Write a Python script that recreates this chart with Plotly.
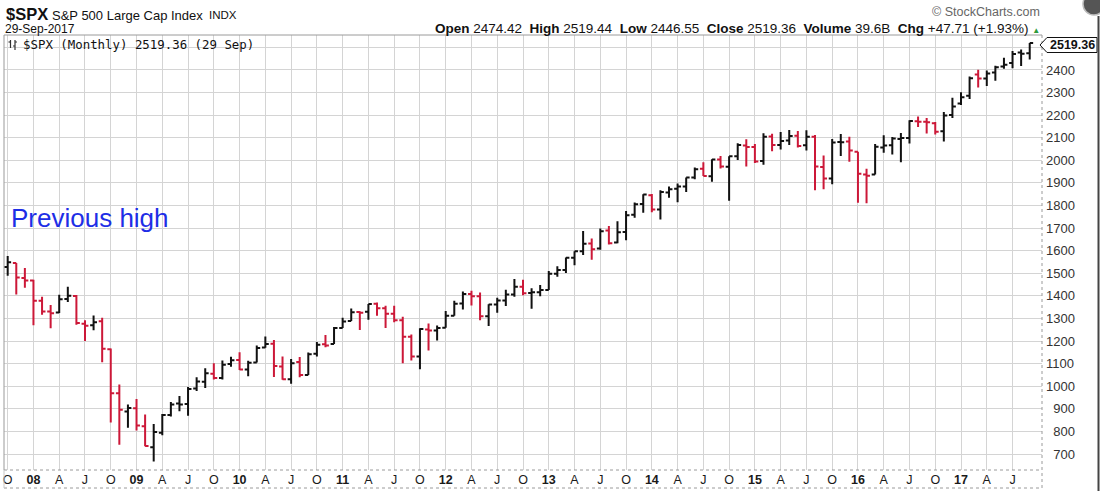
import plotly.graph_objects as go

# ---------------- data (S&P 500 monthly OHLC, Oct 2007 - Sep 2017) ----------------
months = [f"{y}-{m:02d}" for y in range(2007, 2018) for m in range(1, 13)][9:9 + 120]

opens = [
    1527.29, 1545.79, 1479.63,
    1467.97, 1378.60, 1330.45, 1326.41, 1385.97, 1399.62, 1276.69, 1269.42, 1287.83, 1164.17, 968.67, 888.61,
    902.99, 823.09, 729.57, 793.59, 872.74, 923.26, 920.82, 990.22, 1019.52, 1054.91, 1036.18, 1098.89,
    1116.56, 1073.89, 1105.36, 1171.23, 1188.58, 1087.30, 1031.10, 1107.53, 1049.72, 1143.49, 1185.71, 1186.60,
    1257.62, 1289.14, 1328.64, 1329.48, 1365.21, 1345.20, 1320.64, 1292.59, 1219.12, 1131.21, 1251.00, 1246.91,
    1258.86, 1312.45, 1365.90, 1408.47, 1397.86, 1309.87, 1362.33, 1379.32, 1406.54, 1440.90, 1412.20, 1416.18,
    1426.19, 1498.11, 1514.68, 1569.18, 1597.55, 1631.71, 1609.78, 1689.42, 1635.95, 1682.41, 1758.70, 1806.55,
    1845.86, 1782.68, 1857.68, 1873.96, 1884.39, 1923.87, 1962.29, 1929.80, 2004.07, 1971.44, 2018.21, 2065.78,
    2058.90, 1996.67, 2105.23, 2067.63, 2087.38, 2108.64, 2067.00, 2104.49, 1970.09, 1919.65, 2080.76, 2082.93,
    2038.20, 1936.94, 1937.09, 2056.62, 2067.17, 2093.94, 2099.34, 2173.15, 2171.33, 2164.33, 2128.68, 2200.17,
    2251.57, 2285.59, 2380.13, 2362.34, 2388.50, 2415.65, 2431.39, 2477.10, 2474.42]

highs = [
    1576.09, 1545.79, 1523.57,
    1471.77, 1396.02, 1359.68, 1404.57, 1440.24, 1404.05, 1292.17, 1313.15, 1303.04, 1167.03, 1007.51, 918.85,
    943.85, 875.01, 832.98, 877.52, 930.17, 956.23, 996.68, 1039.47, 1080.15, 1101.36, 1113.69, 1130.38,
    1150.45, 1112.42, 1180.69, 1219.80, 1205.13, 1131.23, 1120.95, 1129.24, 1148.90, 1196.14, 1227.08, 1262.60,
    1302.67, 1344.07, 1332.28, 1364.56, 1370.58, 1356.48, 1356.48, 1307.38, 1229.29, 1256.55, 1277.55, 1269.37,
    1333.47, 1378.04, 1419.15, 1422.38, 1415.32, 1363.46, 1391.74, 1426.68, 1474.51, 1470.96, 1434.27, 1448.00,
    1509.94, 1530.94, 1570.28, 1597.57, 1687.18, 1654.19, 1698.78, 1709.67, 1729.86, 1775.22, 1813.55, 1849.44,
    1850.84, 1867.92, 1883.97, 1897.28, 1924.03, 1968.17, 1991.39, 2005.04, 2019.26, 2018.19, 2075.76, 2093.55,
    2072.36, 2119.59, 2117.52, 2125.92, 2134.72, 2129.87, 2132.82, 2112.66, 2020.86, 2094.32, 2116.48, 2104.27,
    2038.20, 1962.96, 2072.21, 2111.05, 2103.48, 2120.55, 2177.09, 2193.81, 2187.87, 2169.60, 2214.10, 2277.53,
    2300.99, 2371.54, 2400.98, 2398.16, 2418.71, 2453.82, 2484.04, 2490.87, 2519.44]

lows = [
    1489.56, 1406.10, 1435.65,
    1270.05, 1316.75, 1256.98, 1324.35, 1373.07, 1272.00, 1200.44, 1247.45, 1106.42, 839.80, 741.02, 815.69,
    804.47, 734.52, 666.79, 783.32, 866.10, 888.86, 869.32, 978.51, 991.97, 1029.38, 1029.38, 1085.89,
    1071.59, 1044.50, 1105.36, 1170.69, 1040.78, 1028.33, 1010.91, 1039.70, 1049.72, 1131.87, 1173.00, 1186.60,
    1257.62, 1289.14, 1249.05, 1294.70, 1311.80, 1258.07, 1282.86, 1101.54, 1114.22, 1074.77, 1158.66, 1202.37,
    1258.86, 1312.45, 1340.03, 1357.38, 1291.98, 1266.74, 1325.41, 1354.65, 1396.56, 1403.28, 1343.35, 1398.11,
    1426.19, 1485.01, 1501.48, 1536.03, 1581.28, 1560.33, 1604.57, 1627.47, 1633.41, 1646.47, 1746.20, 1767.99,
    1770.45, 1737.92, 1834.44, 1814.36, 1859.79, 1915.98, 1930.67, 1904.78, 1964.04, 1820.66, 2001.01, 1972.56,
    1988.12, 1980.90, 2039.69, 2048.38, 2067.93, 2056.32, 2044.02, 1867.01, 1871.91, 1893.70, 2019.39, 1993.26,
    1812.29, 1810.10, 1937.09, 2033.80, 2025.91, 1991.68, 2074.02, 2147.58, 2119.12, 2114.72, 2083.79, 2187.44,
    2245.13, 2271.65, 2322.25, 2328.95, 2352.72, 2405.70, 2407.70, 2417.35, 2446.55]

closes = [
    1549.38, 1481.14, 1468.36,
    1378.55, 1330.63, 1322.70, 1385.59, 1400.38, 1280.00, 1267.38, 1282.83, 1166.36, 968.75, 896.24, 903.25,
    825.88, 735.09, 797.87, 872.81, 919.14, 919.32, 987.48, 1020.62, 1057.08, 1036.19, 1095.63, 1115.10,
    1073.87, 1104.49, 1169.43, 1186.69, 1089.41, 1030.71, 1101.60, 1049.33, 1141.20, 1183.26, 1180.55, 1257.64,
    1286.12, 1327.22, 1325.83, 1363.61, 1345.20, 1320.64, 1292.28, 1218.89, 1131.42, 1253.30, 1246.96, 1257.60,
    1312.41, 1365.68, 1408.47, 1397.91, 1310.33, 1362.16, 1379.32, 1406.58, 1440.67, 1412.16, 1416.18, 1426.19,
    1498.11, 1514.68, 1569.19, 1597.57, 1630.74, 1606.28, 1685.73, 1632.97, 1681.55, 1756.54, 1805.81, 1848.36,
    1782.59, 1859.45, 1872.34, 1883.95, 1923.57, 1960.23, 1930.67, 2003.37, 1972.29, 2018.05, 2067.56, 2058.90,
    1994.99, 2104.50, 2067.89, 2085.51, 2107.39, 2063.11, 2103.84, 1972.18, 1920.03, 2079.36, 2080.41, 2043.94,
    1940.24, 1932.23, 2059.74, 2065.30, 2096.95, 2098.86, 2173.60, 2170.95, 2168.27, 2126.15, 2198.81, 2238.83,
    2278.87, 2363.64, 2362.72, 2384.20, 2411.80, 2423.41, 2470.30, 2471.65, 2519.36]

prior_close = 1526.75  # Sep 2007 close, used to colour the first bar

tick_labels = ["O", "08", "A", "J", "O", "09", "A", "J", "O", "10", "A", "J", "O", "11", "A", "J",
               "O", "12", "A", "J", "O", "13", "A", "J", "O", "14", "A", "J", "O", "15", "A", "J",
               "O", "16", "A", "J", "O", "17", "A", "J"]
y_ticks = list(range(700, 2600, 100))

# ---------------- layout geometry (pixels) ----------------
W, H = 1100, 491
L, R, T, B = 4, 1042, 35, 470      # plot area edges in pixels


def px(x):
    return (x - L) / (R - L)


def py(y):
    return (B - y) / (B - T)


BLACK = "#111111"
RED = "#cc1838"
FONT = "Liberation Sans, Arial, sans-serif"

idx = list(range(len(closes)))
prev = [prior_close] + closes[:-1]
up = [i for i in idx if closes[i] >= prev[i]]
dn = [i for i in idx if closes[i] < prev[i]]

fig = go.Figure()
for sel, col in ((up, BLACK), (dn, RED)):
    fig.add_trace(go.Ohlc(
        x=sel,
        open=[opens[i] for i in sel], high=[highs[i] for i in sel],
        low=[lows[i] for i in sel], close=[closes[i] for i in sel],
        text=[months[i] for i in sel], hoverinfo="text+y",
        increasing=dict(line=dict(color=col, width=2)),
        decreasing=dict(line=dict(color=col, width=2)),
        tickwidth=0.4, showlegend=False))

ticktext = [f"<b>{t}</b>" if t.isdigit() else t for t in tick_labels]
ytext = []
for v in y_ticks:
    s = str(v)
    ytext.append("" if v == 2500 else "\u00a0\u00a0" * (4 - len(s)) + s)

fig.update_layout(
    width=W, height=H,
    margin=dict(l=L, r=W - R, t=T, b=H - B, pad=0),
    paper_bgcolor="white", plot_bgcolor="white",
    font=dict(family=FONT, color="#222"),
    showlegend=False,
    xaxis=dict(range=[-0.43, 120.43], tickvals=list(range(0, 118, 3)), ticktext=ticktext,
               showgrid=True, gridcolor="#d4d4d4", gridwidth=1, zeroline=False,
               showline=False, ticks="", tickfont=dict(size=12.5, color="#1a1a1a"),
               rangeslider=dict(visible=False), fixedrange=True),
    yaxis=dict(range=[629.2, 2554.8], side="right", tickvals=y_ticks, ticktext=ytext,
               showgrid=True, gridcolor="#d4d4d4", gridwidth=1, zeroline=False,
               showline=False, ticks="", tickfont=dict(size=13, color="#333"),
               ticklabelstandoff=3, fixedrange=True),
)

shapes = [
    dict(type="line", xref="paper", yref="paper", x0=0, x1=0, y0=0, y1=1, line=dict(color="#9a9a9a", width=1)),
    dict(type="line", xref="paper", yref="paper", x0=0, x1=1, y0=1, y1=1, line=dict(color="#9a9a9a", width=1)),
    dict(type="line", xref="paper", yref="paper", x0=1, x1=1, y0=py(488), y1=1, line=dict(color="#9a9a9a", width=1, dash="dot")),
    dict(type="line", xref="paper", yref="paper", x0=0, x1=1, y0=0, y1=0, line=dict(color="#9a9a9a", width=1, dash="dot")),
    dict(type="line", xref="paper", yref="paper", x0=0, x1=1, y0=py(488), y1=py(488), line=dict(color="#9a9a9a", width=1, dash="dot")),
    dict(type="line", xref="paper", yref="paper", x0=0, x1=0, y0=py(488), y1=0, line=dict(color="#c8c8c8", width=1)),
    # price flag at right
    dict(type="path", xref="paper", yref="paper",
         path=f"M {px(1040)},{py(45)} L {px(1047)},{py(37.5)} L {px(1097)},{py(37.5)} L {px(1097)},{py(52.5)} L {px(1047)},{py(52.5)} Z",
         fillcolor="white", line=dict(color="#111", width=1)),
    # legend icon (tiny OHLC glyph)
    dict(type="line", xref="paper", yref="paper", x0=px(10.5), x1=px(10.5), y0=py(48), y1=py(40), line=dict(color="#333", width=1.2)),
    dict(type="line", xref="paper", yref="paper", x0=px(8.5), x1=px(10.5), y0=py(42), y1=py(42), line=dict(color="#333", width=1.2)),
    dict(type="line", xref="paper", yref="paper", x0=px(15), x1=px(15), y0=py(50), y1=py(40), line=dict(color="#333", width=1.2)),
    dict(type="line", xref="paper", yref="paper", x0=px(15), x1=px(17), y0=py(42), y1=py(42), line=dict(color="#333", width=1.2)),
    dict(type="line", xref="paper", yref="paper", x0=px(13), x1=px(15), y0=py(46), y1=py(46), line=dict(color="#333", width=1.2)),
    # window close button and edge (screenshot artefact)
    dict(type="circle", xref="paper", yref="paper", x0=px(1083), x1=px(1105), y0=py(-7), y1=py(15),
         fillcolor="#555", line=dict(color="#bbb", width=1.5)),
    dict(type="line", xref="paper", yref="paper", x0=px(1098.5), x1=px(1098.5), y0=py(491), y1=py(16), line=dict(color="#444", width=2)),
]
fig.update_layout(shapes=shapes)

ann = [
    dict(x=px(4), y=py(14), text="<b>$SPX</b>", font=dict(size=16.5, color="#111"), xanchor="left"),
    dict(x=px(50), y=py(15), text="S&P 500 Large Cap Index", font=dict(size=13, color="#111"), xanchor="left"),
    dict(x=px(207), y=py(15), text="INDX", font=dict(size=11.5, color="#111"), xanchor="left"),
    dict(x=px(3), y=py(29), text="29-Sep-2017", font=dict(size=12, color="#111"), xanchor="left"),
    dict(x=px(1042), y=py(12), text="\u00a9 StockCharts.com", font=dict(size=12.5, color="#666"), xanchor="right"),
    dict(x=px(1042), y=py(28),
         text="<b>Open</b> 2474.42  <b>High</b> 2519.44  <b>Low</b> 2446.55  <b>Close</b> 2519.36  "
              "<b>Volume</b> 39.6B  <b>Chg</b> +47.71 (+1.93%) <span style='color:#2e9a3c;font-size:8px'>\u25b2</span>",
         font=dict(size=13.5, color="#111"), xanchor="right"),
    dict(x=px(21), y=py(44), text="$SPX (Monthly) 2519.36 (29 Sep)",
         font=dict(family="DejaVu Sans Mono, monospace", size=12.4, color="#111"), xanchor="left"),
    dict(x=px(1072), y=py(45), text="<b>2519.36</b>", font=dict(size=12.5, color="#111"), xanchor="center"),
    dict(x=px(9), y=py(218), text="Previous high", font=dict(size=26, color="#1e2ee6"), xanchor="left"),
]
for a in ann:
    a.update(xref="paper", yref="paper", yanchor="middle", showarrow=False)
fig.update_layout(annotations=ann)

fig.write_html("out.html")
